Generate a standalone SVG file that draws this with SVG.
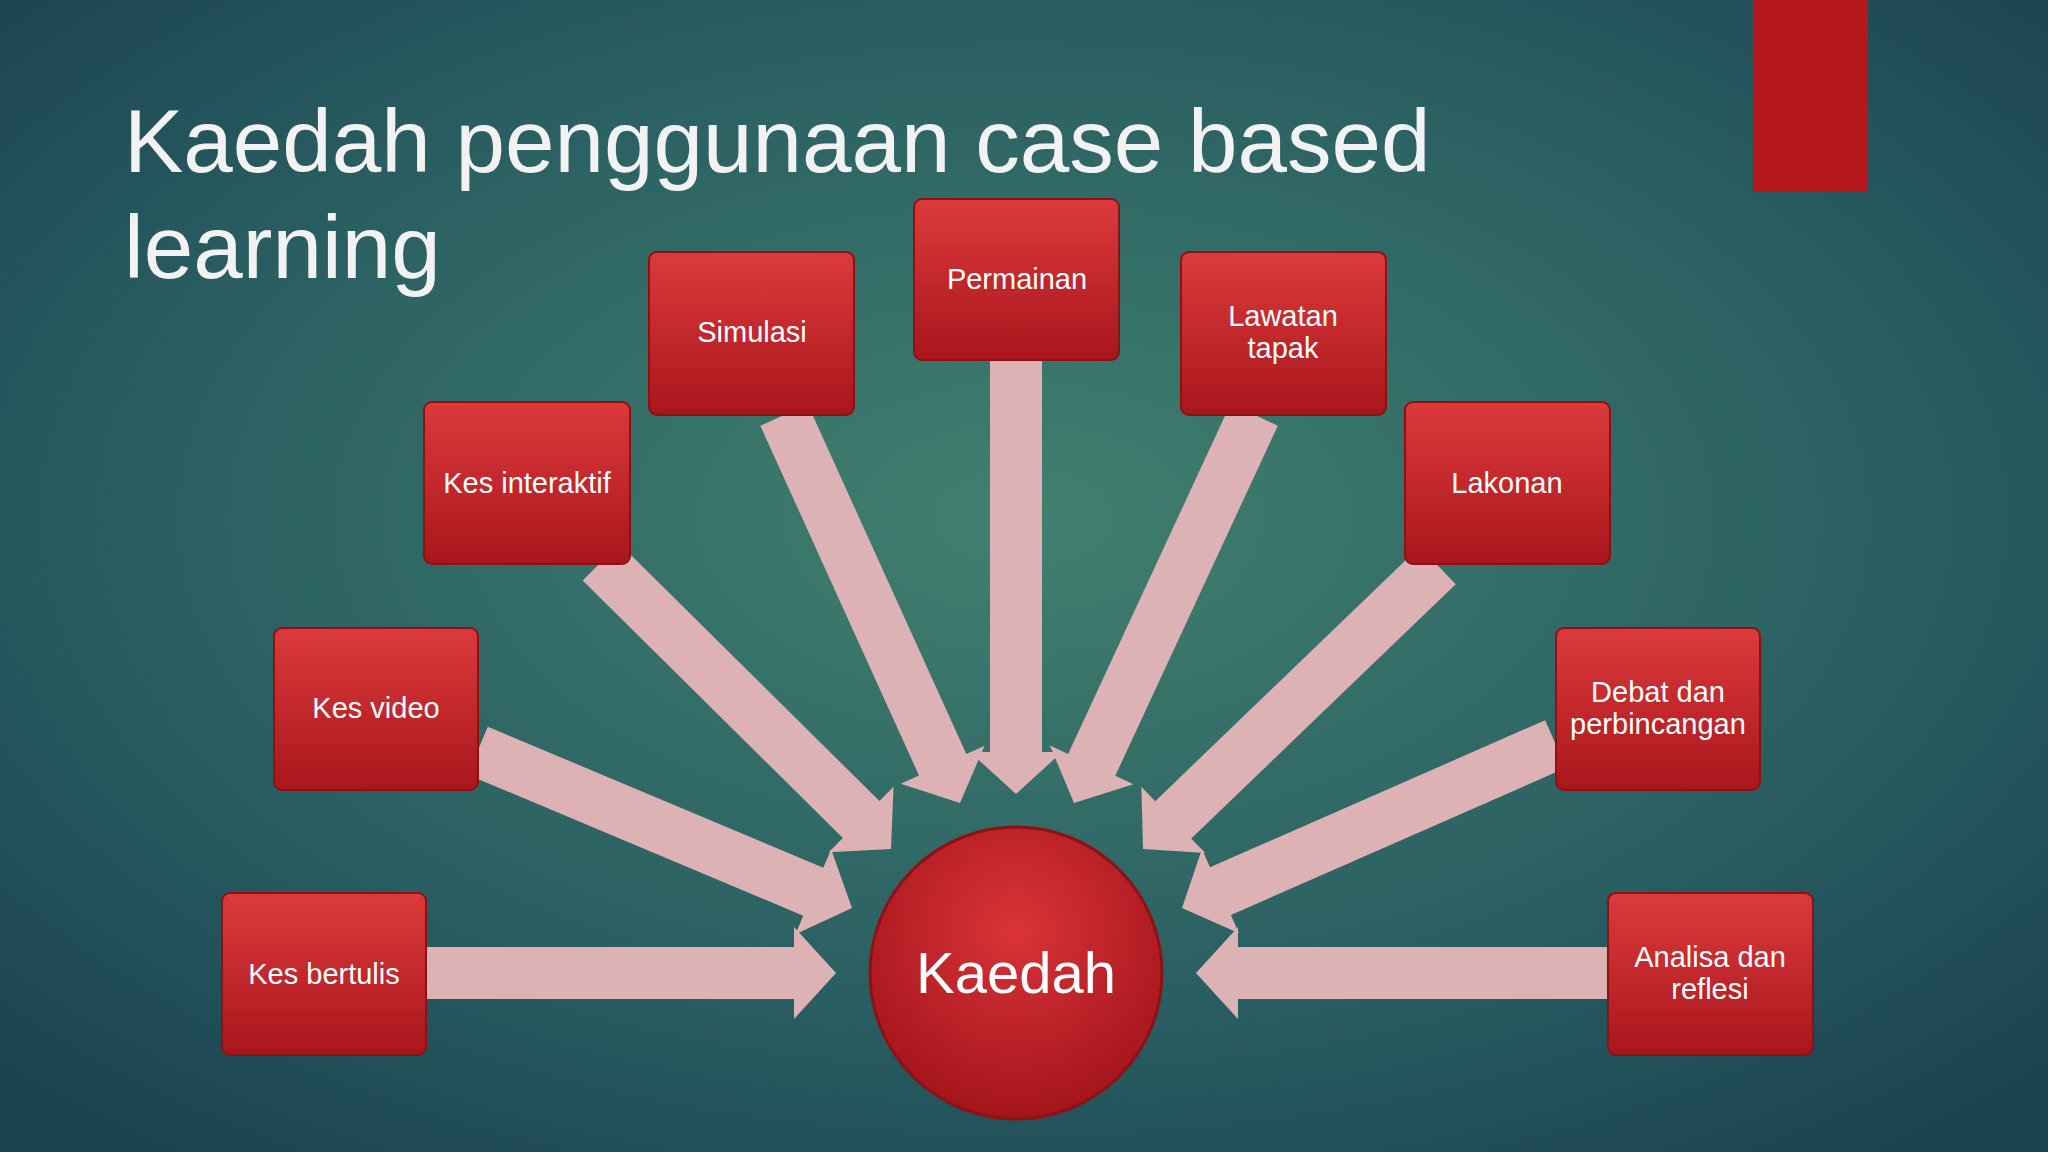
<svg xmlns="http://www.w3.org/2000/svg" width="2048" height="1152" viewBox="0 0 2048 1152">
<defs>
<radialGradient id="bg" cx="50%" cy="45%" r="70%">
<stop offset="0" stop-color="#41806f"/><stop offset="0.6" stop-color="#2a5f62"/><stop offset="1" stop-color="#1b4150"/>
</radialGradient>
<linearGradient id="box" x1="0" y1="0" x2="0" y2="1">
<stop offset="0" stop-color="#dc3a3c"/><stop offset="1" stop-color="#a8161c"/>
</linearGradient>
<radialGradient id="circ" cx="50%" cy="35%" r="65%">
<stop offset="0" stop-color="#d93338"/><stop offset="1" stop-color="#a3151b"/>
</radialGradient>
</defs>
<style>
.b{fill:url(#box);stroke:#8c1216;stroke-width:2}
.t{fill:#fff;font-family:"Liberation Sans",Arial,sans-serif;font-size:29px;text-anchor:middle}
.a{fill:#ddb2b4}
</style>
<rect width="2048" height="1152" fill="url(#bg)"/>
<rect x="1753" y="0" width="115" height="192" fill="#b5181c"/>
<text x="124" y="172" fill="#f2f2f2" font-family="'Liberation Sans',Arial,sans-serif" font-size="89">Kaedah penggunaan case based</text>
<text x="124" y="278" fill="#f2f2f2" font-family="'Liberation Sans',Arial,sans-serif" font-size="89">learning</text>
<g id="connectors">
<path class="a" transform="translate(836,973) rotate(0)" d="M0,0 L-42,-46 L-42,-26 L-410,-26 L-410,26 L-42,26 L-42,46 Z"/>
<path class="a" transform="translate(852,908) rotate(22.8)" d="M0,0 L-42,-46 L-42,-26 L-406,-26 L-406,26 L-42,26 L-42,46 Z"/>
<path class="a" transform="translate(891,849) rotate(44.7)" d="M0,0 L-42,-46 L-42,-26 L-408,-26 L-408,26 L-42,26 L-42,46 Z"/>
<path class="a" transform="translate(960,803) rotate(65.6)" d="M0,0 L-42,-46 L-42,-26 L-426,-26 L-426,26 L-42,26 L-42,46 Z"/>
<path class="a" transform="translate(1016,794) rotate(90)" d="M0,0 L-42,-46 L-42,-26 L-434,-26 L-434,26 L-42,26 L-42,46 Z"/>
<path class="a" transform="translate(1074,803) rotate(114.9)" d="M0,0 L-42,-46 L-42,-26 L-428,-26 L-428,26 L-42,26 L-42,46 Z"/>
<path class="a" transform="translate(1143,849) rotate(136.1)" d="M0,0 L-42,-46 L-42,-26 L-409,-26 L-409,26 L-42,26 L-42,46 Z"/>
<path class="a" transform="translate(1182,908) rotate(156.3)" d="M0,0 L-42,-46 L-42,-26 L-408,-26 L-408,26 L-42,26 L-42,46 Z"/>
<path class="a" transform="translate(1196,973) rotate(180)" d="M0,0 L-42,-46 L-42,-26 L-412,-26 L-412,26 L-42,26 L-42,46 Z"/>
</g>
<g id="n1"><rect class="b" x="222" y="893" width="204" height="162" rx="8"/><text class="t" x="324" y="984">Kes bertulis</text></g>
<g id="n2"><rect class="b" x="274" y="628" width="204" height="162" rx="8"/><text class="t" x="376" y="718">Kes video</text></g>
<g id="n3"><rect class="b" x="424" y="402" width="206" height="162" rx="8"/><text class="t" x="527" y="493">Kes interaktif</text></g>
<g id="n4"><rect class="b" x="649" y="252" width="205" height="163" rx="8"/><text class="t" x="752" y="342">Simulasi</text></g>
<g id="n5"><rect class="b" x="914" y="199" width="205" height="161" rx="8"/><text class="t" x="1017" y="289">Permainan</text></g>
<g id="n6"><rect class="b" x="1181" y="252" width="205" height="163" rx="8"/><text class="t" x="1283" y="326">Lawatan</text><text class="t" x="1283" y="358">tapak</text></g>
<g id="n7"><rect class="b" x="1405" y="402" width="205" height="162" rx="8"/><text class="t" x="1507" y="493">Lakonan</text></g>
<g id="n8"><rect class="b" x="1556" y="628" width="204" height="162" rx="8"/><text class="t" x="1658" y="702">Debat dan</text><text class="t" x="1658" y="734">perbincangan</text></g>
<g id="n9"><rect class="b" x="1608" y="893" width="205" height="162" rx="8"/><text class="t" x="1710" y="967">Analisa dan</text><text class="t" x="1710" y="999">reflesi</text></g>
<g id="center"><circle cx="1016" cy="973" r="146" fill="url(#circ)" stroke="#8c1216" stroke-width="3"/><text class="t" x="1016" y="993" style="font-size:58px">Kaedah</text></g>
</svg>
